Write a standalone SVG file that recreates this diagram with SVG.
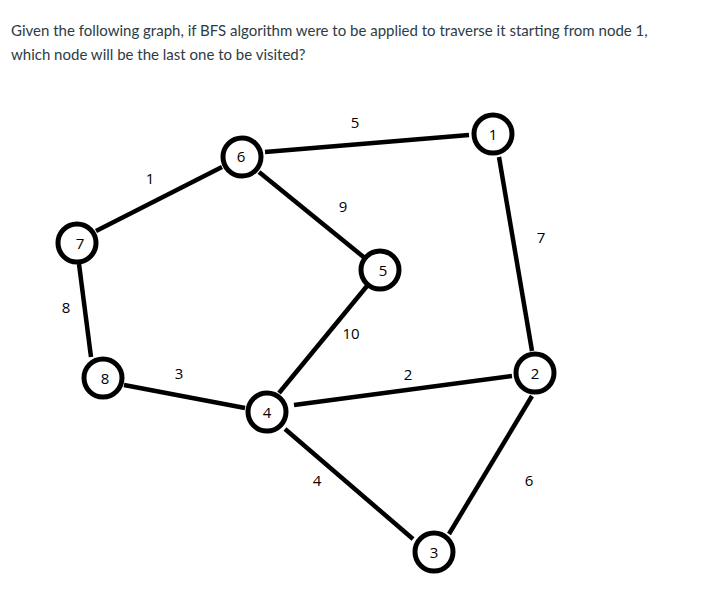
<svg xmlns="http://www.w3.org/2000/svg" width="719" height="594" viewBox="0 0 719 594">
<style>
.q{font-family:Lato,"Liberation Sans",sans-serif;font-size:15px;fill:#2d3b45}
.n circle{fill:#fff;stroke:#000;stroke-width:5}
.n text,.w{font-family:"Open Sans","DejaVu Sans",sans-serif;font-size:15px;fill:#000;text-anchor:middle}
#edges line{stroke:#000;stroke-width:4.5}
</style>
<rect width="719" height="594" fill="#fff"/>
<text class="q" x="11" y="36">Given the following graph, if BFS algorithm were to be applied to traverse it starting from node 1,</text>
<text class="q" x="11" y="60">which node will be the last one to be visited?</text>
<g id="edges">
<line x1="265" y1="152" x2="469" y2="135"/>
<line x1="222" y1="167" x2="96" y2="231"/>
<line x1="259" y1="172" x2="366" y2="259"/>
<line x1="79" y1="264" x2="91" y2="357"/>
<line x1="499" y1="157" x2="532" y2="351"/>
<line x1="124" y1="385" x2="245" y2="408"/>
<line x1="367" y1="286" x2="279" y2="393"/>
<line x1="294" y1="405" x2="512" y2="376"/>
<line x1="532" y1="396" x2="449" y2="534"/>
<line x1="285" y1="429" x2="413" y2="539"/>
</g>
<g id="n1" class="n"><circle cx="493" cy="134" r="19"/><text x="493" y="140">1</text></g>
<g id="n2" class="n"><circle cx="535" cy="373" r="19"/><text x="535" y="379">2</text></g>
<g id="n3" class="n"><circle cx="434" cy="552" r="19"/><text x="434" y="558">3</text></g>
<g id="n4" class="n"><circle cx="267" cy="412" r="19"/><text x="267" y="418">4</text></g>
<g id="n5" class="n"><circle cx="380" cy="270" r="19"/><text x="383" y="276">5</text></g>
<g id="n6" class="n"><circle cx="242" cy="157" r="19"/><text x="241" y="162">6</text></g>
<g id="n7" class="n"><circle cx="77" cy="243" r="19"/><text x="80" y="249">7</text></g>
<g id="n8" class="n"><circle cx="103" cy="378" r="19"/><text x="105" y="384">8</text></g>
<g id="weights">
<text class="w" x="355" y="128">5</text>
<text class="w" x="150" y="184">1</text>
<text class="w" x="343" y="212">9</text>
<text class="w" x="66" y="313">8</text>
<text class="w" x="541" y="243">7</text>
<text class="w" x="179" y="379">3</text>
<text class="w" x="351" y="339">10</text>
<text class="w" x="408" y="380">2</text>
<text class="w" x="317" y="486">4</text>
<text class="w" x="529" y="486">6</text>
</g>
</svg>
